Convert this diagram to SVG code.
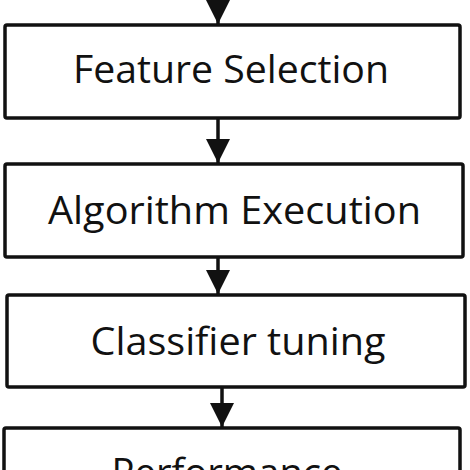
<svg xmlns="http://www.w3.org/2000/svg" width="470" height="470" viewBox="0 0 470 470">
<defs>
<style>
.box{fill:#fff;stroke:#111;stroke-width:3.5}
.lbl{font-family:"Open Sans","Liberation Sans",sans-serif;font-size:38px;fill:#111;text-anchor:middle}
.con{stroke:#111;stroke-width:3.5;fill:none}
</style>
<marker id="ah" markerUnits="userSpaceOnUse" markerWidth="24" markerHeight="26" refX="24" refY="12" orient="auto" viewBox="0 0 24 24">
<path d="M0,0 L24,12 L0,24 Z" fill="#111"/>
</marker>
</defs>
<g id="connectors">
<line class="con" x1="218" y1="-5" x2="218" y2="24" marker-end="url(#ah)"/>
<line class="con" x1="218" y1="118" x2="218" y2="163" marker-end="url(#ah)"/>
<line class="con" x1="218" y1="257" x2="218" y2="294" marker-end="url(#ah)"/>
<line class="con" x1="222" y1="387" x2="222" y2="427" marker-end="url(#ah)"/>
</g>
<g id="n1">
<rect class="box" x="5" y="25" width="455" height="93" rx="2"/>
<text class="lbl" x="231" y="83" textLength="316" lengthAdjust="spacingAndGlyphs">Feature Selection</text>
</g>
<g id="n2">
<rect class="box" x="5" y="164" width="458" height="93" rx="2"/>
<text class="lbl" x="234.5" y="224" textLength="373" lengthAdjust="spacingAndGlyphs">Algorithm Execution</text>
</g>
<g id="n3">
<rect class="box" x="7" y="295" width="458" height="92" rx="2"/>
<text class="lbl" x="238" y="355" textLength="295" lengthAdjust="spacingAndGlyphs">Classifier tuning</text>
</g>
<g id="n4">
<rect class="box" x="4" y="428" width="456" height="93" rx="2"/>
<text class="lbl" x="227" y="486" textLength="231" lengthAdjust="spacingAndGlyphs">Performance</text>
</g>
</svg>
